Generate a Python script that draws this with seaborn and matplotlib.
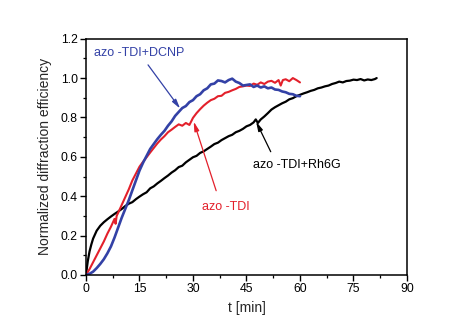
import matplotlib
matplotlib.use("Agg")
import matplotlib.pyplot as plt
import seaborn as sns
from matplotlib.ticker import MultipleLocator, FormatStrFormatter

# Diffraction efficiency growth, normalized, vs. time (min)
t_dcnp = [0, 1, 2, 3, 4, 5, 6, 7, 8, 9, 10, 11, 12, 13, 14, 15, 16, 17, 18, 19,
          20, 21, 22, 23, 24, 25, 26, 27, 28, 29, 30, 31, 32, 33, 34, 35, 36, 37,
          38, 39, 40, 41, 42, 43, 44, 45, 46, 47, 48, 49, 50, 51, 52, 53, 54, 55,
          56, 57, 58, 59, 60]
y_dcnp = [0.0, 0.006, 0.017, 0.035, 0.056, 0.08, 0.11, 0.145, 0.19, 0.24, 0.29,
          0.335, 0.38, 0.43, 0.48, 0.53, 0.57, 0.605, 0.64, 0.665, 0.69, 0.712,
          0.732, 0.758, 0.78, 0.808, 0.828, 0.848, 0.858, 0.878, 0.888, 0.908, 0.918,
          0.938, 0.948, 0.968, 0.972, 0.988, 0.985, 0.978, 0.99, 0.997, 0.982, 0.975,
          0.962, 0.965, 0.968, 0.955, 0.962, 0.952, 0.958, 0.948, 0.952, 0.942,
          0.94, 0.932, 0.928, 0.92, 0.918, 0.91, 0.908]

t_tdi = [0, 1, 2, 3, 4, 5, 6, 7, 8, 8.3, 8.6, 9, 10, 11, 12, 13, 14, 15, 16, 17,
         18, 19, 20, 21, 22, 23, 24, 25, 26, 27, 28, 29, 30, 31, 32, 33, 34, 35,
         36, 37, 38, 39, 40, 41, 42, 43, 44, 45, 46, 47, 48, 49, 50, 51, 52, 53,
         54, 54.6, 55.2, 56, 57, 58, 59, 60]
y_tdi = [0.0, 0.03, 0.065, 0.1, 0.135, 0.17, 0.21, 0.245, 0.285, 0.26, 0.3, 0.315,
         0.355, 0.395, 0.435, 0.48, 0.515, 0.55, 0.575, 0.598, 0.622, 0.645, 0.668,
         0.688, 0.705, 0.725, 0.738, 0.752, 0.765, 0.758, 0.772, 0.762, 0.798, 0.822,
         0.842, 0.86, 0.875, 0.888, 0.895, 0.908, 0.91, 0.925, 0.93, 0.938, 0.945,
         0.955, 0.958, 0.962, 0.96, 0.972, 0.966, 0.978, 0.97, 0.982, 0.986,
         0.976, 0.99, 0.962, 0.99, 0.994, 0.984, 1.0, 0.99, 0.978]

t_rh6g = [0, 0.5, 1, 1.5, 2, 3, 4, 5, 6, 7, 8, 9, 10, 11, 12, 13, 14, 15, 16, 17,
          18, 19, 20, 21, 22, 23, 24, 25, 26, 27, 28, 29, 30, 31, 32, 33, 34, 35,
          36, 37, 38, 39, 40, 41, 42, 43, 44, 45, 46, 47, 47.6, 48.2, 49, 50, 51,
          52, 53, 54, 55, 56, 57, 58, 59, 60, 61, 62, 63, 64, 65, 66, 67, 68, 69,
          70, 71, 72, 73, 74, 75, 76, 77, 78, 79, 80, 81, 81.5]
y_rh6g = [0.0, 0.07, 0.12, 0.155, 0.185, 0.225, 0.25, 0.268, 0.283, 0.297, 0.31,
          0.322, 0.335, 0.35, 0.362, 0.37, 0.385, 0.398, 0.41, 0.42, 0.44, 0.45,
          0.465, 0.478, 0.492, 0.505, 0.52, 0.532, 0.548, 0.555, 0.572, 0.585,
          0.598, 0.605, 0.62, 0.628, 0.64, 0.652, 0.665, 0.672, 0.685, 0.695,
          0.705, 0.712, 0.725, 0.732, 0.742, 0.755, 0.762, 0.775, 0.79, 0.772,
          0.79, 0.805, 0.822, 0.84, 0.852, 0.862, 0.872, 0.88, 0.892, 0.898, 0.908,
          0.915, 0.922, 0.928, 0.935, 0.94, 0.948, 0.952, 0.958, 0.962, 0.97,
          0.975, 0.982, 0.978, 0.985, 0.987, 0.992, 0.99, 0.995, 0.988, 0.993,
          0.99, 0.995, 1.0]

BLUE = "#3341a6"
RED = "#e3202b"
BLACK = "#000000"

sns.set_style("ticks")
plt.rcParams["font.family"] = ["Liberation Sans", "DejaVu Sans"]

fig = plt.figure(figsize=(4.74, 3.31), dpi=100)
ax = fig.add_axes([0.1814, 0.1692, 0.6772, 0.7139])

sns.lineplot(x=t_rh6g, y=y_rh6g, color=BLACK, lw=1.6, ax=ax, sort=False, estimator=None)
sns.lineplot(x=t_tdi, y=y_tdi, color=RED, lw=1.5, ax=ax, sort=False, estimator=None)
sns.lineplot(x=t_dcnp, y=y_dcnp, color=BLUE, lw=1.9, ax=ax, sort=False, estimator=None)

ax.set_xlim(0, 90)
ax.set_ylim(0, 1.2)
ax.xaxis.set_major_locator(MultipleLocator(15))
ax.xaxis.set_minor_locator(MultipleLocator(7.5))
ax.yaxis.set_major_locator(MultipleLocator(0.2))
ax.yaxis.set_minor_locator(MultipleLocator(0.1))
ax.yaxis.set_major_formatter(FormatStrFormatter("%.1f"))

for s in ax.spines.values():
    s.set_linewidth(1.1)
    s.set_color("black")
ax.tick_params(which="major", direction="out", length=4, width=1.0, labelsize=8.8,
               pad=2, colors="black")
ax.tick_params(which="minor", direction="out", length=2.5, width=0.9, colors="black")
ax.tick_params(top=False, right=False, which="both")

ax.set_xlabel("t [min]", fontsize=10, labelpad=4)
ax.set_ylabel("Normalized diffraction efficiency", fontsize=10, labelpad=6)

arrow = dict(arrowstyle="-|>,head_length=0.55,head_width=0.14", lw=0.9, shrinkA=0, shrinkB=0)

ax.annotate("", xy=(26.4, 0.845), xytext=(17.4, 1.067),
            arrowprops=dict(arrow, color=BLUE))
ax.text(14.9, 1.127, "azo -TDI+DCNP", color=BLUE, fontsize=9, ha="center", va="center")

ax.annotate("", xy=(30.2, 0.779), xytext=(36.5, 0.428),
            arrowprops=dict(arrow, color=RED))
ax.text(39.3, 0.345, "azo -TDI", color=RED, fontsize=9, ha="center", va="center")

ax.annotate("", xy=(47.7, 0.779), xytext=(51.8, 0.626),
            arrowprops=dict(arrow, color=BLACK))
ax.text(59.2, 0.559, "azo -TDI+Rh6G", color=BLACK, fontsize=9, ha="center", va="center")

fig.savefig("out.png", dpi=100)
